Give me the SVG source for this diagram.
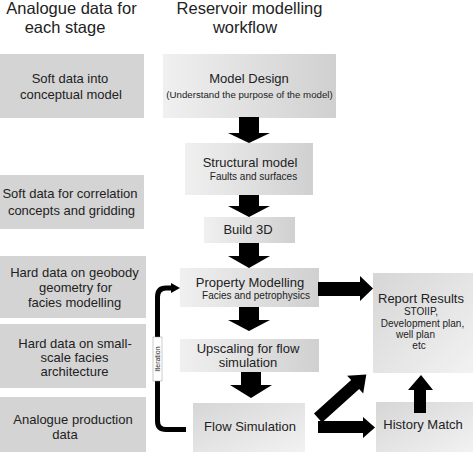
<svg xmlns="http://www.w3.org/2000/svg" width="474" height="462" viewBox="0 0 474 462">
<defs>
<linearGradient id="gA" x1="0" y1="0" x2="1" y2="0">
<stop offset="0" stop-color="#f0f0f0"/>
<stop offset="1" stop-color="#d0d0d0"/>
</linearGradient>
<linearGradient id="gB" x1="0" y1="0" x2="1" y2="1">
<stop offset="0" stop-color="#d6d6d6"/>
<stop offset="1" stop-color="#f2f2f2"/>
</linearGradient>
<style>
text{font-family:"Liberation Sans",Arial,sans-serif;fill:#222;text-anchor:middle}
.h{font-size:16.5px}
.t{font-size:13px}
.s{font-size:10px}
.left{fill:#d4d4d4}
.ca{fill:url(#gA)}
.cb{fill:url(#gB)}
.arr{fill:#000}
</style>
</defs>
<rect width="474" height="462" fill="#fff"/>

<g id="headers">
<text class="h" x="71.5" y="14">Analogue data for</text>
<text class="h" x="65" y="33">each stage</text>
<text class="h" x="249.5" y="14">Reservoir modelling</text>
<text class="h" x="245" y="33">workflow</text>
</g>

<g id="analogue1"><rect class="left" x="0" y="54" width="144" height="64"/>
<text class="t" x="70" y="83">Soft data into</text>
<text class="t" x="71" y="99">conceptual model</text></g>

<g id="analogue2"><rect class="left" x="0" y="175" width="144" height="54"/>
<text class="t" x="70" y="198">Soft data for correlation</text>
<text class="t" x="71.5" y="215">concepts and gridding</text></g>

<g id="analogue3"><rect class="left" x="0" y="256" width="146" height="62"/>
<text class="t" x="74.5" y="277">Hard data on geobody</text>
<text class="t" x="75.5" y="292">geometry for</text>
<text class="t" x="74.5" y="307">facies modelling</text></g>

<g id="analogue4"><rect class="left" x="0" y="324" width="146" height="64"/>
<text class="t" x="75" y="348">Hard data on small-</text>
<text class="t" x="74.5" y="362">scale facies</text>
<text class="t" x="74.5" y="376">architecture</text></g>

<g id="analogue5"><rect class="left" x="0" y="397" width="146" height="55"/>
<text class="t" x="73" y="424">Analogue production</text>
<text class="t" x="65" y="439">data</text></g>

<g id="modelDesign"><rect class="ca" x="163" y="54" width="173" height="64"/>
<text class="t" x="249" y="83">Model Design</text>
<text style="font-size:9.7px" x="249.5" y="98">(Understand the purpose of the model)</text></g>

<g id="structural"><rect class="ca" x="185" y="143" width="128" height="52"/>
<text class="t" x="250" y="167">Structural model</text>
<text class="s" x="253.5" y="180">Faults and surfaces</text></g>

<g id="build3d"><rect class="ca" x="204" y="217" width="91" height="26"/>
<text class="t" x="248" y="234">Build 3D</text></g>

<g id="property"><rect class="ca" x="180" y="268" width="139" height="39"/>
<text class="t" x="250" y="287">Property Modelling</text>
<text class="s" x="256" y="299">Facies and petrophysics</text></g>

<g id="upscaling"><rect class="ca" x="180" y="339" width="139" height="33"/>
<text class="t" x="248" y="353">Upscaling for flow</text>
<text class="t" x="248" y="367">simulation</text></g>

<g id="flowSim"><rect class="cb" x="193" y="403" width="112" height="49"/>
<text class="t" x="250" y="431">Flow Simulation</text></g>

<g id="report"><rect class="cb" x="373" y="273" width="100" height="100"/>
<text class="t" x="421" y="303">Report Results</text>
<text class="s" x="421" y="315">STOIIP,</text>
<text class="s" x="422.5" y="327">Development plan,</text>
<text class="s" x="415.5" y="338">well plan</text>
<text class="s" x="419" y="349">etc</text></g>

<g id="historyMatch"><rect class="cb" x="376" y="402" width="97" height="50"/>
<text class="t" x="423" y="429">History Match</text></g>

<g id="connectors">
<polygon class="arr" points="239,117 259,117 259,133 270,133 249,143 228,133 239,133"/>
<polygon class="arr" points="239,195 259,195 259,206 270,206 249,217 228,206 239,206"/>
<polygon class="arr" points="239,243 259,243 259,256 270,256 249,268 228,256 239,256"/>
<polygon class="arr" points="239,307 259,307 259,320 270,320 249,331 228,320 239,320"/>
<polygon class="arr" points="241,372 261,372 261,385 272,385 251,398 230,385 241,385"/>
<polygon class="arr" points="318,282 360,282 360,276 373,288.5 360,301 360,296 318,296"/>
<polygon class="arr" points="318,421 363,421 363,417 375,427.5 363,438 363,433 318,433"/>
<polygon class="arr" transform="translate(318,418) rotate(-42)" points="0,-6 50,-6 50,-12 65,0 50,12 50,6 0,6"/>
<polygon class="arr" points="414,413 414,390 408,390 421,375 433,390 426,390 426,413"/>
<path d="M186,429.5 H166 Q157.5,429.5 157.5,421 V297 Q157.5,288 166,288 H173" fill="none" stroke="#000" stroke-width="5"/>
<polygon class="arr" points="171,283 180,288 171,293"/>
<rect x="153" y="337" width="9" height="44" fill="#fff" stroke="#999" stroke-width="0.5"/>
<text style="font-size:7px" transform="translate(160,359) rotate(-90)" x="0" y="0">Iteration</text>
</g>
</svg>
